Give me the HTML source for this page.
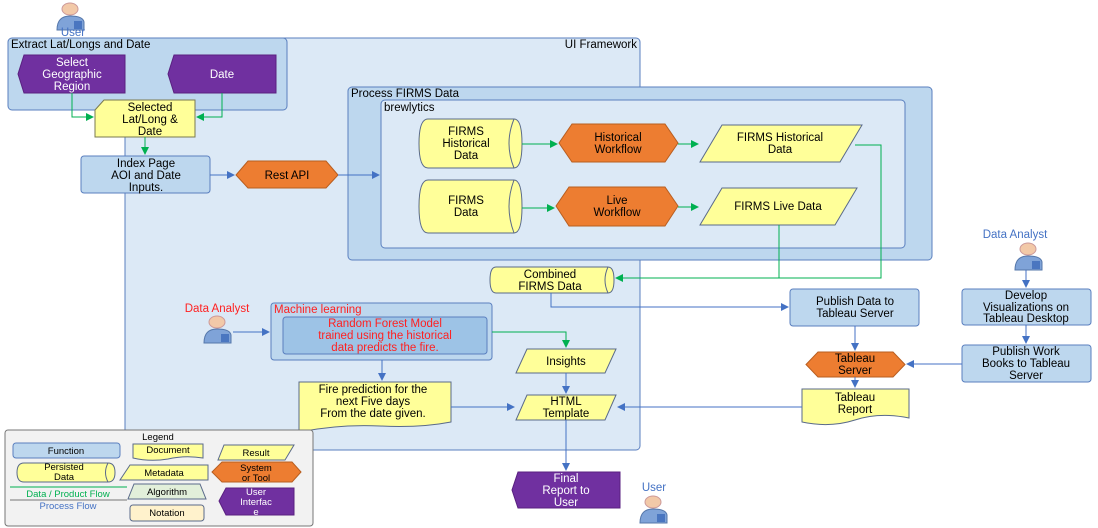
<!DOCTYPE html>
<html><head><meta charset="utf-8"><style>
html,body{margin:0;padding:0;background:#fff;width:1098px;height:528px;overflow:hidden}
svg text{font-family:"Liberation Sans",sans-serif;}
</style></head><body>
<svg width="1098" height="528" viewBox="0 0 1098 528" xmlns="http://www.w3.org/2000/svg">
<defs>
<marker id="ab" markerWidth="8" markerHeight="8" refX="7" refY="4" orient="auto" markerUnits="userSpaceOnUse"><path d="M0,0 L8,4 L0,8z" fill="#4472c4"/></marker>
<marker id="ag" markerWidth="8" markerHeight="8" refX="7" refY="4" orient="auto" markerUnits="userSpaceOnUse"><path d="M0,0 L8,4 L0,8z" fill="#00b050"/></marker>
<g id="person"><ellipse cx="0" cy="-9" rx="8" ry="6" fill="#f2c9a8" stroke="#c99"/><path d="M-13,12 Q-13,-2 0,-2 Q13,-2 14,4 L14,12z" fill="#7fa3d8" stroke="#5577aa"/><rect x="4" y="3" width="8" height="8" fill="#4a76c0"/></g>
</defs>
<g font-size="11.5" fill="#000">
<rect x="125" y="38" width="515" height="412" rx="4" fill="#dce9f6" stroke="#5a7fbf"/>
<text x="637" y="48" text-anchor="end">UI Framework</text>
<rect x="8" y="38" width="279" height="72" rx="4" fill="#bdd7ee" stroke="#5a7fbf"/>
<text x="11" y="48">Extract Lat/Longs and Date</text>
<path d="M24,55 H125 V93 H24 L18,74z" fill="#7030a0" stroke="#5a2080"/>
<text fill="#fff" text-anchor="middle"><tspan x="72" y="66">Select</tspan><tspan x="72" y="78">Geographic</tspan><tspan x="72" y="90">Region</tspan></text>
<path d="M174,55 H276 V93 H174 L168,74z" fill="#7030a0" stroke="#5a2080"/>
<text x="222" y="78" fill="#fff" text-anchor="middle">Date</text>
<use href="#person" x="70" y="18"/>
<text x="73" y="36" fill="#4472c4" text-anchor="middle">User</text>
<path d="M104,100 H195 V137 H95 V110z" fill="#ffff99" stroke="#7a7a50"/>
<text text-anchor="middle"><tspan x="150" y="111">Selected</tspan><tspan x="150" y="123">Lat/Long &amp;</tspan><tspan x="150" y="135">Date</tspan></text>
<path d="M72,93 V117 H93" fill="none" stroke="#00b050" marker-end="url(#ag)"/>
<path d="M222,93 V117 H197" fill="none" stroke="#00b050" marker-end="url(#ag)"/>
<path d="M145,137 V154" fill="none" stroke="#00b050" marker-end="url(#ag)"/>
<rect x="81" y="156" width="129" height="37" rx="3" fill="#bdd7ee" stroke="#5a7fbf"/>
<text text-anchor="middle"><tspan x="146" y="167">Index Page</tspan><tspan x="146" y="179">AOI and Date</tspan><tspan x="146" y="191">Inputs.</tspan></text>
<path d="M210,175 H234" stroke="#4472c4" marker-end="url(#ab)"/>
<path d="M248,161 H326 L338,175 L326,188 H248 L236,175z" fill="#ed7d31" stroke="#b85e20"/>
<text x="287" y="179" text-anchor="middle">Rest API</text>
<rect x="348" y="87" width="584" height="173" rx="4" fill="#bdd7ee" stroke="#5a7fbf"/>
<text x="351" y="97">Process FIRMS Data</text>
<rect x="381" y="100" width="524" height="148" rx="4" fill="#dce9f6" stroke="#5a7fbf"/>
<text x="384" y="111">brewlytics</text>
<path d="M338,175 H379" stroke="#4472c4" marker-end="url(#ab)"/>
<path d="M428,119 H514 Q522,119 522,143.5 Q522,168 514,168 H428 Q419,168 419,143.5 Q419,119 428,119z" fill="#ffff99" stroke="#5a6a8a"/>
<path d="M514,119 Q504,143.5 514,168" fill="none" stroke="#5a6a8a"/>
<text text-anchor="middle"><tspan x="466" y="135">FIRMS</tspan><tspan x="466" y="147">Historical</tspan><tspan x="466" y="159">Data</tspan></text>
<path d="M428,180 H514 Q522,180 522,206.5 Q522,233 514,233 H428 Q419,233 419,206.5 Q419,180 428,180z" fill="#ffff99" stroke="#5a6a8a"/>
<path d="M514,180 Q504,206.5 514,233" fill="none" stroke="#5a6a8a"/>
<text text-anchor="middle"><tspan x="466" y="204">FIRMS</tspan><tspan x="466" y="216">Data</tspan></text>
<path d="M522,144 H557" stroke="#00b050" marker-end="url(#ag)"/>
<path d="M522,208 H554" stroke="#00b050" marker-end="url(#ag)"/>
<path d="M572,124 H665 L678,143 L665,162 H572 L559,143z" fill="#ed7d31" stroke="#b85e20"/>
<text text-anchor="middle"><tspan x="618" y="141">Historical</tspan><tspan x="618" y="153">Workflow</tspan></text>
<path d="M569,187 H665 L678,206 L665,226 H569 L556,206z" fill="#ed7d31" stroke="#b85e20"/>
<text text-anchor="middle"><tspan x="617" y="204">Live</tspan><tspan x="617" y="216">Workflow</tspan></text>
<path d="M678,144 H698" stroke="#00b050" marker-end="url(#ag)"/>
<path d="M678,207 H698" stroke="#00b050" marker-end="url(#ag)"/>
<path d="M722,125 H862 L840,162 H700z" fill="#ffff99" stroke="#5a6a8a"/>
<text text-anchor="middle"><tspan x="780" y="141">FIRMS Historical</tspan><tspan x="780" y="153">Data</tspan></text>
<path d="M722,188 H857 L835,225 H700z" fill="#ffff99" stroke="#5a6a8a"/>
<text x="778" y="210" text-anchor="middle">FIRMS Live Data</text>
<path d="M855,145 H881 V278 H616" fill="none" stroke="#00b050" marker-end="url(#ag)"/>
<path d="M779,225 V278" fill="none" stroke="#00b050"/>
<path d="M496,267 H608 Q614,267 614,280 Q614,293 608,293 H496 Q490,293 490,280 Q490,267 496,267z" fill="#ffff99" stroke="#5a6a8a"/>
<path d="M608,267 Q602,280 608,293" fill="none" stroke="#5a6a8a"/>
<text text-anchor="middle"><tspan x="550" y="278">Combined</tspan><tspan x="550" y="290">FIRMS Data</tspan></text>
<path d="M551,293 V307 H788" fill="none" stroke="#4472c4" marker-end="url(#ab)"/>
<rect x="790" y="289" width="129" height="37" rx="3" fill="#bdd7ee" stroke="#5a7fbf"/>
<text text-anchor="middle"><tspan x="855" y="305">Publish Data to</tspan><tspan x="855" y="317">Tableau Server</tspan></text>
<path d="M855,326 V350" stroke="#4472c4" marker-end="url(#ab)"/>
<path d="M818,352 H893 L905,364.5 L893,377 H818 L806,364.5z" fill="#ed7d31" stroke="#b85e20"/>
<text text-anchor="middle"><tspan x="855" y="362">Tableau</tspan><tspan x="855" y="374">Server</tspan></text>
<path d="M855,377 V387" stroke="#4472c4" marker-end="url(#ab)"/>
<path d="M802,389 H909 V418 Q880,412 855,420 Q830,428 802,422z" fill="#ffff99" stroke="#5a6a8a"/>
<text text-anchor="middle"><tspan x="855" y="401">Tableau</tspan><tspan x="855" y="413">Report</tspan></text>
<path d="M802,407 H618" stroke="#4472c4" marker-end="url(#ab)"/>
<use href="#person" x="1028" y="258"/>
<text x="1015" y="238" fill="#4472c4" text-anchor="middle">Data Analyst</text>
<path d="M1026,270 V287" stroke="#4472c4" marker-end="url(#ab)"/>
<rect x="962" y="289" width="129" height="36" rx="3" fill="#bdd7ee" stroke="#5a7fbf"/>
<text text-anchor="middle"><tspan x="1026" y="299">Develop</tspan><tspan x="1026" y="311">Visualizations on</tspan><tspan x="1026" y="322">Tableau Desktop</tspan></text>
<path d="M1026,325 V343" stroke="#4472c4" marker-end="url(#ab)"/>
<rect x="962" y="345" width="129" height="37" rx="3" fill="#bdd7ee" stroke="#5a7fbf"/>
<text text-anchor="middle"><tspan x="1026" y="355">Publish Work</tspan><tspan x="1026" y="367">Books to Tableau</tspan><tspan x="1026" y="379">Server</tspan></text>
<path d="M962,364 H907" stroke="#4472c4" marker-end="url(#ab)"/>
<text x="217" y="312" fill="#ff2020" text-anchor="middle">Data Analyst</text>
<use href="#person" x="217" y="331"/>
<path d="M233,332 H269" stroke="#4472c4" marker-end="url(#ab)"/>
<rect x="271" y="303" width="221" height="57" rx="3" fill="#bdd7ee" stroke="#5a7fbf"/>
<text x="274" y="313" fill="#ff2020">Machine learning</text>
<rect x="283" y="317" width="204" height="37" rx="3" fill="#9dc3e6" stroke="#5a7fbf"/>
<text fill="#ff2020" text-anchor="middle"><tspan x="385" y="327">Random Forest Model</tspan><tspan x="385" y="339">trained using the historical</tspan><tspan x="385" y="351">data predicts the fire.</tspan></text>
<path d="M492,332 H566 V347" fill="none" stroke="#00b050" marker-end="url(#ag)"/>
<path d="M382,360 V380" stroke="#4472c4" marker-end="url(#ab)"/>
<path d="M527,349 H616 L605,373 H516z" fill="#ffff99" stroke="#5a6a8a"/>
<text x="566" y="365" text-anchor="middle">Insights</text>
<path d="M566,373 V393" stroke="#4472c4" marker-end="url(#ab)"/>
<path d="M299,382 H451 V422 Q420,428 380,426 Q340,424 299,432z" fill="#ffff99" stroke="#5a6a8a"/>
<text text-anchor="middle"><tspan x="373" y="393">Fire prediction for the</tspan><tspan x="373" y="405">next Five days</tspan><tspan x="373" y="417">From the date given.</tspan></text>
<path d="M451,407 H514" stroke="#4472c4" marker-end="url(#ab)"/>
<path d="M527,395 H616 L605,420 H516z" fill="#ffff99" stroke="#5a6a8a"/>
<text text-anchor="middle"><tspan x="566" y="405">HTML</tspan><tspan x="566" y="417">Template</tspan></text>
<path d="M566,420 V470" stroke="#4472c4" marker-end="url(#ab)"/>
<path d="M518,472 H620 V508 H518 L512,490z" fill="#7030a0" stroke="#5a2080"/>
<text fill="#fff" text-anchor="middle"><tspan x="566" y="482">Final</tspan><tspan x="566" y="494">Report to</tspan><tspan x="566" y="506">User</tspan></text>
<text x="654" y="491" fill="#4472c4" text-anchor="middle">User</text>
<use href="#person" x="653" y="511"/>
<g font-size="9.5">
<rect x="5" y="430" width="308" height="96" rx="3" fill="#f2f2f2" stroke="#777"/>
<text x="158" y="440" text-anchor="middle">Legend</text>
<rect x="13" y="443" width="107" height="15" rx="3" fill="#bdd7ee" stroke="#5a7fbf"/>
<text x="66" y="454" text-anchor="middle">Function</text>
<path d="M133,444 H203 V458 Q185,455 168,459 Q150,462 133,458z" fill="#ffff99" stroke="#5a6a8a"/>
<text x="168" y="453" text-anchor="middle">Document</text>
<path d="M224,445 H294 L285,460 H218z" fill="#ffff99" stroke="#5a6a8a"/>
<text x="256" y="456" text-anchor="middle">Result</text>
<path d="M24,463 H108 Q115,463 115,472.5 Q115,482 108,482 H24 Q17,482 17,472.5 Q17,463 24,463z" fill="#ffff99" stroke="#5a6a8a"/>
<path d="M108,463 Q103,472.5 108,482" fill="none" stroke="#5a6a8a"/>
<text text-anchor="middle"><tspan x="64" y="470">Persisted</tspan><tspan x="64" y="480">Data</tspan></text>
<path d="M130,465 H208 V480 H120z" fill="#ffff99" stroke="#5a6a8a"/>
<text x="164" y="476" text-anchor="middle">Metadata</text>
<path d="M222,462 H292 L301,472 L292,482 H222 L212,472z" fill="#ed7d31" stroke="#b85e20"/>
<text text-anchor="middle"><tspan x="256" y="471">System</tspan><tspan x="256" y="481">or Tool</tspan></text>
<line x1="10" y1="487" x2="127" y2="487" stroke="#00b050"/>
<text x="68" y="497" fill="#00b050" text-anchor="middle">Data / Product  Flow</text>
<line x1="10" y1="500" x2="127" y2="500" stroke="#777"/>
<text x="68" y="509" fill="#4472c4" text-anchor="middle">Process Flow</text>
<path d="M134,484 H200 L206,499 H128z" fill="#e2efda" stroke="#5a6a8a"/>
<text x="167" y="495" text-anchor="middle">Algorithm</text>
<path d="M226,488 H294 V515 H226 L219,501z" fill="#7030a0" stroke="#5a2080"/>
<text fill="#fff" text-anchor="middle"><tspan x="256" y="495">User</tspan><tspan x="256" y="505">Interfac</tspan><tspan x="256" y="515">e</tspan></text>
<rect x="130" y="505" width="74" height="16" rx="3" fill="#fff2cc" stroke="#5a6a8a"/>
<text x="167" y="516" text-anchor="middle">Notation</text>
</g>
</g>
</svg>
</body></html>
